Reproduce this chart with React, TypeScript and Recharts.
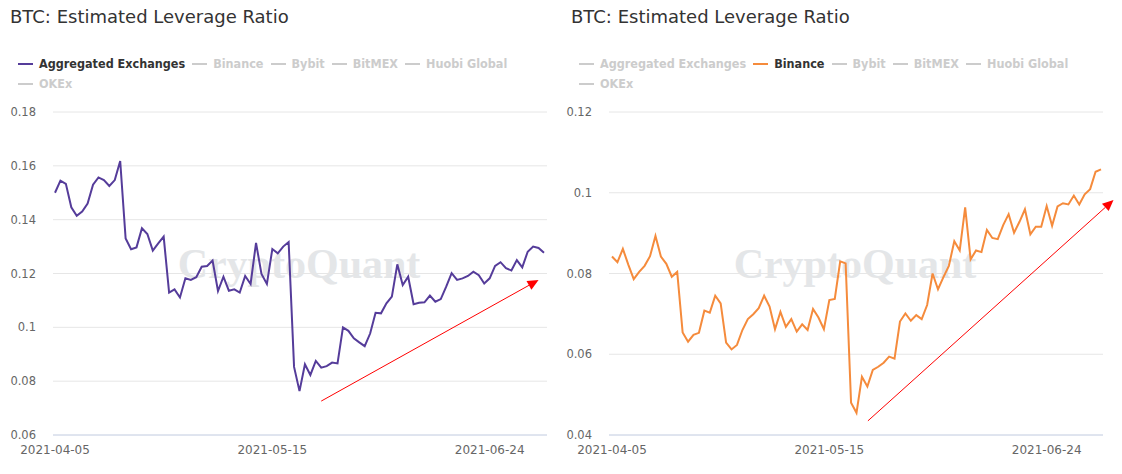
import { LineChart, Line, XAxis, YAxis, CartesianGrid, ReferenceLine } from "recharts";

const startDate = "2021-04-05";
const tickIndex = [0, 40, 80];
const tickLabels = ["2021-04-05", "2021-05-15", "2021-06-24"];

const seriesNames = ["Aggregated Exchanges", "Binance", "Bybit", "BitMEX", "Huobi Global", "OKEx"];

const aggregated = [
  0.150, 0.1545, 0.1533, 0.1446, 0.1414, 0.143, 0.146, 0.153, 0.1557, 0.1547,
  0.1525, 0.1547, 0.1618, 0.133, 0.129, 0.1297, 0.1368, 0.1347, 0.1285, 0.1312,
  0.1337, 0.1129, 0.1141, 0.1111, 0.1182, 0.1176, 0.1186, 0.1225, 0.1228, 0.1248,
  0.1135, 0.1188, 0.1136, 0.1141, 0.1129, 0.1191, 0.1161, 0.1314, 0.1198, 0.1161,
  0.1291, 0.1275, 0.130, 0.1317, 0.0853, 0.0763, 0.0863, 0.0823, 0.0875, 0.085,
  0.0856, 0.0869, 0.0866, 0.100, 0.0987, 0.0959, 0.0944, 0.093, 0.0977, 0.1054,
  0.1052, 0.1089, 0.1114, 0.1234, 0.1157, 0.1188, 0.1086, 0.1091, 0.1093, 0.1118,
  0.1095, 0.1105, 0.1151, 0.1201, 0.1176, 0.1182, 0.1191, 0.1207, 0.1194, 0.1163,
  0.1182, 0.1228, 0.1242, 0.122, 0.1211, 0.125, 0.1223, 0.1281, 0.130, 0.1295,
  0.1277,
];

const binance = [
  0.0842, 0.0828, 0.0861, 0.0822, 0.0786, 0.0804, 0.0819, 0.0843, 0.0893, 0.0842,
  0.0824, 0.0792, 0.0804, 0.0654, 0.0631, 0.0648, 0.0653, 0.0708, 0.0703, 0.0745,
  0.0726, 0.0629, 0.0612, 0.0623, 0.066, 0.0687, 0.0699, 0.0714, 0.0745, 0.0718,
  0.0662, 0.0705, 0.0668, 0.0687, 0.0656, 0.0674, 0.066, 0.0712, 0.0691, 0.0662,
  0.0734, 0.0737, 0.083, 0.0825, 0.048, 0.0455, 0.0544, 0.052, 0.0561, 0.0569,
  0.0579, 0.0594, 0.0589, 0.0681, 0.0701, 0.0683, 0.0697, 0.0687, 0.0722, 0.080,
  0.0761, 0.0791, 0.0819, 0.088, 0.0857, 0.0964, 0.0835, 0.0857, 0.0853, 0.0908,
  0.0888, 0.0885, 0.092, 0.0947, 0.0901, 0.0928, 0.0959, 0.0897, 0.0916, 0.0916,
  0.0967, 0.0918, 0.0966, 0.0974, 0.0971, 0.0993, 0.0971, 0.0996, 0.1009, 0.1052,
  0.1058,
];

const aggTicks = [0.06, 0.08, 0.1, 0.12, 0.14, 0.16, 0.18];
const binTicks = [0.04, 0.06, 0.08, 0.1, 0.12];

// trend arrows drawn on top of the charts: [x index, value]
const aggArrow = [{ x: 49, y: 0.0726 }, { x: 89, y: 0.1176 }];
const binArrow = [{ x: 47.1, y: 0.0435 }, { x: 92.3, y: 0.0982 }];

const day0 = new Date(startDate + "T00:00:00Z").getTime();
const rows = aggregated.map((v, i) => ({
  i,
  date: new Date(day0 + i * 86400000).toISOString().slice(0, 10),
  agg: v,
  bin: binance[i],
}));

const FONT = '"DejaVu Sans", sans-serif';
const LEGEND_FONT = '"DejaVu Sans Condensed", "Liberation Sans", sans-serif';

const fmtY = (v: number) => String(parseFloat(v.toFixed(2)));
const fmtX = (v: number) => tickLabels[tickIndex.indexOf(v)] ?? "";

const Arrow = (props: any) => {
  const { x1, y1, x2, y2 } = props;
  const ang = Math.atan2(y2 - y1, x2 - x1);
  const len = 11;
  const w = 5;
  const bx = x2 - len * Math.cos(ang);
  const by = y2 - len * Math.sin(ang);
  const px = -Math.sin(ang) * w;
  const py = Math.cos(ang) * w;
  return (
    <g>
      <line x1={x1} y1={y1} x2={bx} y2={by} stroke="#ff0000" strokeWidth={1} />
      <polygon
        points={`${x2},${y2} ${bx + px},${by + py} ${bx - px},${by - py}`}
        fill="#ff0000"
      />
    </g>
  );
};

function LegendBox({ active, color }: { active: string; color: string }) {
  return (
    <div
      style={{
        position: "absolute",
        left: 18,
        top: 55,
        width: 520,
        display: "flex",
        flexWrap: "wrap",
        rowGap: 3,
        fontFamily: LEGEND_FONT,
        fontSize: 12.5,
        fontWeight: "bold",
      }}
    >
      {seriesNames.map((name, k) => {
        const on = name === active;
        return (
          <div
            key={name}
            style={{
              display: "flex",
              alignItems: "center",
              marginRight: 7,
              height: 17,
              flexBasis: k === seriesNames.length - 1 ? "100%" : "auto",
            }}
          >
            <span
              style={{
                display: "inline-block",
                width: 15,
                height: 2,
                background: on ? color : "#cccccc",
                marginRight: 6,
              }}
            />
            <span style={{ color: on ? "#333333" : "#cccccc" }}>{name}</span>
          </div>
        );
      })}
    </div>
  );
}

function Panel(props: {
  dataKey: string;
  name: string;
  color: string;
  ticks: number[];
  domain: [number, number];
  yWidth: number;
  right: number;
  padL: number;
  padR: number;
  arrow: { x: number; y: number }[];
  markX: number;
}) {
  const { dataKey, name, color, ticks, domain, yWidth, right, padL, padR, arrow, markX } = props;
  return (
    <div style={{ position: "relative", width: 561, height: 474 }}>
      <div
        style={{
          position: "absolute",
          left: 10,
          top: 6,
          fontFamily: FONT,
          fontSize: 18,
          color: "#333333",
          whiteSpace: "nowrap",
        }}
      >
        BTC: Estimated Leverage Ratio
      </div>
      <LegendBox active={name} color={color} />
      <div
        style={{
          position: "absolute",
          left: markX - 150,
          width: 300,
          top: 240,
          textAlign: "center",
          fontFamily: '"Liberation Serif", serif',
          fontWeight: "bold",
          fontSize: 42,
          color: "#e4e6e8",
        }}
      >
        CryptoQuant
      </div>
      <div style={{ position: "absolute", left: 0, top: 0 }}>
        <LineChart
          width={561}
          height={474}
          data={rows}
          margin={{ top: 112, right, bottom: 9, left: 0 }}
        >
          <CartesianGrid vertical={false} stroke="#e6e6e6" />
          <XAxis
            dataKey="i"
            type="number"
            domain={[0, 90]}
            ticks={tickIndex}
            tickFormatter={fmtX}
            padding={{ left: padL, right: padR }}
            height={30}
            tickLine={false}
            tickSize={0}
            tickMargin={10}
            stroke="#ccd6eb"
            tick={{ fill: "#666666", fontSize: 12, fontFamily: FONT }}
            interval={0}
          />
          <YAxis
            type="number"
            domain={domain}
            ticks={ticks}
            tickFormatter={fmtY}
            width={yWidth}
            axisLine={false}
            tickLine={false}
            tickSize={0}
            tickMargin={17}
            tick={{ fill: "#666666", fontSize: 11.5, fontFamily: FONT }}
            interval={0}
          />
          <Line
            type="linear"
            dataKey={dataKey}
            stroke={color}
            strokeWidth={2}
            dot={false}
            activeDot={false}
            isAnimationActive={false}
          />
          <ReferenceLine
            segment={[arrow[0], arrow[1]]}
            ifOverflow="visible"
            shape={Arrow}
          />
        </LineChart>
      </div>
    </div>
  );
}

export default function App() {
  return (
    <div
      style={{
        position: "absolute",
        left: 0,
        top: 0,
        width: 1122,
        height: 474,
        background: "#ffffff",
        display: "flex",
      }}
    >
      <Panel
        dataKey="agg"
        name="Aggregated Exchanges"
        color="#553c9a"
        ticks={aggTicks}
        domain={[0.06, 0.18]}
        yWidth={53}
        right={14}
        padL={2}
        padR={3}
        arrow={aggArrow}
        markX={299}
      />
      <Panel
        dataKey="bin"
        name="Binance"
        color="#f58b3c"
        ticks={binTicks}
        domain={[0.04, 0.12]}
        yWidth={48}
        right={19}
        padL={3}
        padR={2}
        arrow={binArrow}
        markX={294}
      />
    </div>
  );
}
